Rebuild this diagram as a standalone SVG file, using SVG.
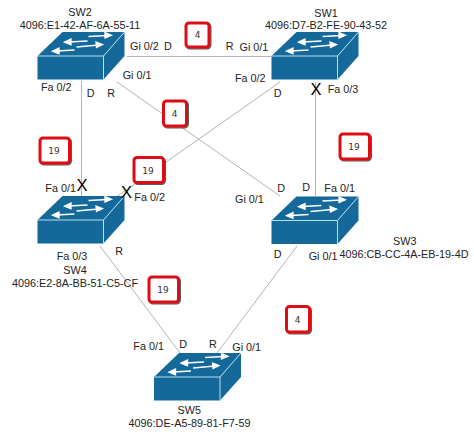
<svg xmlns="http://www.w3.org/2000/svg" width="474" height="432" viewBox="0 0 474 432">
<style>
text{font-family:"Liberation Sans",Arial,sans-serif;font-size:10.8px;fill:#222}
.m{text-anchor:middle}
.x{font-size:16.5px;fill:#000;text-anchor:middle}
.b{font-family:"DejaVu Sans",sans-serif;font-size:9px;text-anchor:middle;fill:#333}
.c line{stroke:#b4b4b4;stroke-width:1}
.box{fill:#fff;stroke:#dd0f14;stroke-width:3;filter:url(#sh)}
.ar{stroke:#fff;stroke-width:1.3;fill:#fff}
</style>
<defs>
<filter id="sh" x="-30%" y="-30%" width="170%" height="170%"><feDropShadow dx="1" dy="1" stdDeviation="0.7" flood-color="#333" flood-opacity="0.8"/></filter>
<g id="sw">
<polygon points="0,0 66,0 66,23.5 0,23.5" fill="#14689a"/>
<polygon points="0,0 25,-24 87,-24 66,0" fill="#14689a"/>
<polygon points="66,0 87,-24 87,0 66,23.5" fill="#14689a"/>
<polyline points="0,0 66,0 87,-24" fill="none" stroke="#b6dff0" stroke-width="1"/>
<line x1="66" y1="0" x2="66" y2="23.5" stroke="#b6dff0" stroke-width="1"/>
<g class="ar">
<line x1="51" y1="-19.5" x2="70" y2="-20.5"/><polygon points="74,-20.7 67.500,-23.500 67.500,-18"/>
<line x1="31" y1="-14" x2="50" y2="-15"/><polygon points="27,-13.8 33.500,-17 33.500,-11.200"/>
<line x1="39" y1="-9" x2="61" y2="-11"/><polygon points="65,-11.400 58.500,-14 59,-8.500"/>
<line x1="19" y1="-5" x2="37" y2="-6"/><polygon points="15,-4.800 21.500,-8 21.500,-2.300"/>
</g>
</g>
</defs>
<rect width="474" height="432" fill="#fff"/>
<g id="connectors" class="c">
<line x1="127" y1="56.500" x2="271" y2="56.500"/>
<line x1="117" y1="82" x2="280" y2="196"/>
<line x1="280" y1="82" x2="117" y2="196.500"/>
<line x1="81.500" y1="81" x2="81.500" y2="197"/>
<line x1="315.500" y1="82" x2="315.500" y2="196"/>
<line x1="100" y1="246" x2="180" y2="353"/>
<line x1="297" y1="246" x2="217" y2="353"/>
</g>
<g id="sw2"><use href="#sw" x="37.500" y="56"/>
<text class="m" x="80" y="16">SW2</text><text class="m" x="80" y="28.500">4096:E1-42-AF-6A-55-11</text>
<text x="130" y="50">Gi 0/2</text><text x="164" y="50">D</text><text x="122.700" y="78.700">Gi 0/1</text><text x="41" y="91.300">Fa 0/2</text><text x="86.700" y="97">D</text><text x="107.300" y="97">R</text></g>
<g id="sw1"><use href="#sw" x="271.500" y="56"/>
<text class="m" x="326" y="16.700">SW1</text><text class="m" x="326" y="29">4096:D7-B2-FE-90-43-52</text>
<text x="225.700" y="50">R</text><text x="239.500" y="51">Gi 0/1</text><text x="235" y="81.500">Fa 0/2</text><text x="273.700" y="97">D</text><text x="327.700" y="92.500">Fa 0/3</text><text class="x" x="316" y="95">X</text></g>
<g id="sw4"><use href="#sw" x="37.500" y="220"/>
<text class="m" x="75" y="274">SW4</text><text class="m" x="75" y="286.700">4096:E2-8A-BB-51-C5-CF</text>
<text x="45.300" y="191.700">Fa 0/1</text><text x="134.300" y="200.700">Fa 0/2</text><text x="56.700" y="260">Fa 0/3</text><text x="115.300" y="255">R</text><text class="x" x="82" y="191">X</text><text class="x" x="126.500" y="197.500">X</text></g>
<g id="sw3"><use href="#sw" x="271.500" y="220.500"/>
<text class="m" x="404.700" y="244.700">SW3</text><text class="m" x="404" y="258">4096:CB-CC-4A-EB-19-4D</text>
<text x="277.300" y="192">D</text><text x="302.300" y="190.700">D</text><text x="324.300" y="191.700">Fa 0/1</text><text x="235" y="203.300">Gi 0/1</text><text x="273.700" y="258.300">D</text><text x="308.700" y="260">Gi 0/1</text></g>
<g id="sw5"><use href="#sw" x="154" y="377"/>
<text class="m" x="189.300" y="414">SW5</text><text class="m" x="189.500" y="426.700">4096:DE-A5-89-81-F7-59</text>
<text x="133.300" y="350">Fa 0/1</text><text x="179.300" y="348.300">D</text><text x="209" y="348">R</text><text x="232.300" y="350.700">Gi 0/1</text></g>
<g id="cost-1"><rect class="box" x="186" y="23" width="23" height="24" rx="3"/><text class="b" x="197.500" y="38">4</text></g>
<g id="cost-2"><rect class="box" x="163.500" y="101" width="23" height="25" rx="3"/><text class="b" x="174.500" y="117">4</text></g>
<g id="cost-3"><rect class="box" x="40" y="138" width="29.500" height="25" rx="3"/><text class="b" x="54" y="154">19</text></g>
<g id="cost-4"><rect class="box" x="134" y="157.500" width="29.500" height="25" rx="3"/><text class="b" x="148" y="173.500">19</text></g>
<g id="cost-5"><rect class="box" x="340" y="134" width="29.500" height="25" rx="3"/><text class="b" x="354" y="150">19</text></g>
<g id="cost-6"><rect class="box" x="149" y="277" width="29.500" height="25" rx="3"/><text class="b" x="163" y="292.500">19</text></g>
<g id="cost-7"><rect class="box" x="286.500" y="306.500" width="23" height="25.500" rx="3"/><text class="b" x="297.500" y="322.500">4</text></g>
</svg>
